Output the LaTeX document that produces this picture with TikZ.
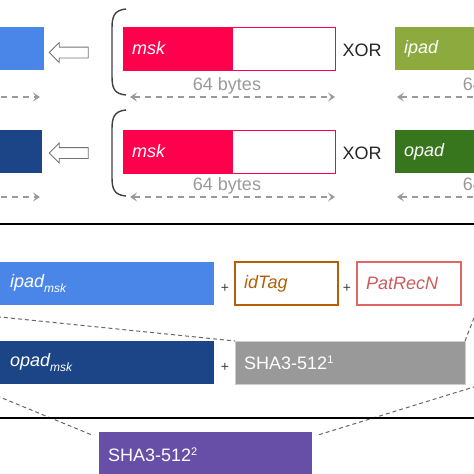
\documentclass[tikz,border=0pt]{standalone}
\usepackage{fontspec}
\setmainfont{Liberation Sans}
\usetikzlibrary{shapes.arrows, arrows.meta, positioning}

\definecolor{lightblue}{HTML}{4A86E8}
\definecolor{darkblue}{HTML}{1C4587}
\definecolor{mskred}{HTML}{FF004C}
\definecolor{ipadgreen}{HTML}{8DAA3E}
\definecolor{opadgreen}{HTML}{38761D}
\definecolor{bytegray}{HTML}{9A9A9A}
\definecolor{tagorange}{HTML}{B45F06}
\definecolor{patpink}{HTML}{E06666}
\definecolor{hashgray}{HTML}{999999}
\definecolor{hashpurple}{HTML}{674EA7}

\begin{document}
\begin{tikzpicture}[x=1pt, y=-1pt,
    block/.style={anchor=north west, inner sep=0pt, outer sep=0pt, minimum height=43pt},
    boxtext/.style={anchor=west, inner sep=0pt, font=\fontsize{18}{20}\selectfont\itshape},
    bytes/.style={inner sep=0pt, text=bytegray, font=\fontsize{18}{20}\selectfont},
    bytespan/.style={bytegray, line width=1.5pt, dash pattern=on 6pt off 5pt,
        >={Stealth[length=7pt, width=9pt, inset=3pt]}},
    zoomline/.style={black!60, line width=1pt, dash pattern=on 4pt off 3pt},
    plus/.style={inner sep=0pt, text=black!75, font=\fontsize{14}{16}\selectfont},
    hollow/.style={single arrow, draw=black!55, line width=0.8pt, shape border rotate=180,
        minimum height=39pt, single arrow head extend=4.5pt, single arrow head indent=0pt,
        inner xsep=0pt, inner ysep=5pt}]

    \clip (0,0) rectangle (474,474);

    % first row: ipad
    \node [block, fill=lightblue, minimum width=44pt] (ipadout) at (0,27) {};
    \node [hollow] (arrowA) at (71.5,52.5) {};
    \node [block, draw=mskred, line width=1pt, minimum width=212pt] (mskA) at (123,27) {};
    \node [block, fill=mskred, minimum width=110pt] (mskAfill) at (mskA.north west) {};
    \node [boxtext, text=white, right=9pt of mskA.west] (mskAtext) {msk};
    \node [inner sep=0pt, text=black!85, font=\fontsize{18}{20}\selectfont] (xorA) at (362,50) {XOR};
    \node [block, fill=ipadgreen, minimum width=212pt] (ipadA) at (395,27) {};
    \node [boxtext, text=white, right=9pt of ipadA.west] (ipadAtext) {ipad};
    \draw [black!75, line width=1.4pt] (126,9) .. controls (114,10) and (112,17) .. (112,28)
        -- (112,76) .. controls (112,88) and (114,94) .. (126,95);

    \node [bytes] (bytesA) at (227,86) {64 bytes};
    \node [bytes] (bytesAr) at (497,86) {64 bytes};
    \coordinate (spanAl) at (130,97);
    \coordinate (spanAr) at (335,97);
    \coordinate (spanAout) at (-10,97);
    \coordinate (spanAoute) at (40,97);
    \coordinate (spanApad) at (397,97);
    \coordinate (spanApade) at (520,97);
    \draw [bytespan, <->] (spanAl) -- (spanAr);
    \draw [bytespan, ->] (spanAout) -- (spanAoute);
    \draw [bytespan, <-] (spanApad) -- (spanApade);

    % second row: opad
    \node [block, fill=darkblue, minimum width=42pt] (opadout) at (0,130) {};
    \node [hollow] (arrowB) at (71.5,153) {};
    \node [block, draw=mskred, line width=1pt, minimum width=212pt] (mskB) at (123,130) {};
    \node [block, fill=mskred, minimum width=110pt] (mskBfill) at (mskB.north west) {};
    \node [boxtext, text=white, right=9pt of mskB.west] (mskBtext) {msk};
    \node [inner sep=0pt, text=black!85, font=\fontsize{18}{20}\selectfont] (xorB) at (362,153) {XOR};
    \node [block, fill=opadgreen, minimum width=212pt] (opadB) at (395,130) {};
    \node [boxtext, text=white, right=9pt of opadB.west] (opadBtext) {opad};
    \draw [black!75, line width=1.4pt] (126,110) .. controls (114,111) and (112,118) .. (112,129)
        -- (112,177) .. controls (112,189) and (114,195) .. (126,196);

    \node [bytes] (bytesB) at (227,186) {64 bytes};
    \node [bytes] (bytesBr) at (497,186) {64 bytes};
    \coordinate (spanBl) at (130,197);
    \coordinate (spanBr) at (335,197);
    \coordinate (spanBout) at (-10,197);
    \coordinate (spanBoute) at (40,197);
    \coordinate (spanBpad) at (397,197);
    \coordinate (spanBpade) at (520,197);
    \draw [bytespan, <->] (spanBl) -- (spanBr);
    \draw [bytespan, ->] (spanBout) -- (spanBoute);
    \draw [bytespan, <-] (spanBpad) -- (spanBpade);

    % hashing
    \node [block, fill=lightblue, minimum width=214pt] (ipadmsk) at (0,262) {};
    \node [boxtext, text=white, right=10pt of ipadmsk.west] (ipadmsktext)
        {ipad\raisebox{-5pt}{\fontsize{12}{13}\selectfont msk}};
    \node [plus] (plusA) at (225,288) {+};
    \node [block, draw=tagorange, line width=1.3pt, minimum width=103pt] (idtag) at (235,262) {};
    \node [boxtext, text=tagorange, right=9pt of idtag.west] (idtagtext) {idTag};
    \node [plus] (plusB) at (347,288) {+};
    \node [block, draw=patpink, line width=1.3pt, minimum width=104pt] (patrec) at (357,262) {};
    \node [boxtext, text=patpink!90!black, right=9pt of patrec.west] (patrectext) {PatRecN};

    \node [block, fill=darkblue, minimum width=214pt] (opadmsk) at (0,341) {};
    \node [boxtext, text=white, right=10pt of opadmsk.west] (opadmsktext)
        {opad\raisebox{-5pt}{\fontsize{12}{13}\selectfont msk}};
    \node [plus] (plusC) at (225,367) {+};
    \node [block, fill=hashgray, draw=black!20, line width=1pt, minimum width=230pt] (shaA) at (235,341) {};
    \node [boxtext, font=\fontsize{18}{20}\selectfont, text=white, right=9pt of shaA.west] (shaAtext)
        {SHA3-512\textsuperscript{\fontsize{11}{12}\selectfont 1}};

    \node [block, fill=hashpurple, minimum height=60pt, minimum width=213pt] (shaB) at (99,432) {};
    \node [boxtext, font=\fontsize{18}{20}\selectfont, text=white, anchor=west] (shaBtext) at (108,455)
        {SHA3-512\textsuperscript{\fontsize{11}{12}\selectfont 2}};

    % zoom lines
    \coordinate (zoomAl) at (-10,316);
    \coordinate (zoomAr) at (481,300);
    \coordinate (zoomBl) at (-10,393);
    \coordinate (zoomBr) at (490,382);
    \draw [zoomline] (zoomAl) -- (shaA.north west);
    \draw [zoomline] (shaA.north east) -- (zoomAr);
    \draw [zoomline] (zoomBl) -- ([xshift=-7pt, yshift=-3pt]shaB.north west);
    \draw [zoomline] (zoomBr) -- ([xshift=6pt, yshift=-3pt]shaB.north east);

    % separators
    \coordinate (sepAl) at (-5,224);
    \coordinate (sepAr) at (480,224);
    \coordinate (sepBl) at (-5,418);
    \coordinate (sepBr) at (480,418);
    \draw [line width=2.5pt] (sepAl) -- (sepAr);
    \draw [line width=2.5pt] (sepBl) -- (sepBr);
\end{tikzpicture}
\end{document}
